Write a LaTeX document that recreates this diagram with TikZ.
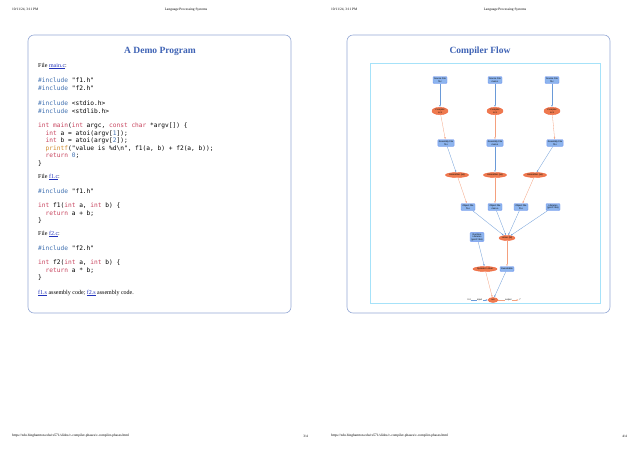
\documentclass[tikz,border=0pt]{standalone}
\usepackage{fontspec}
\setmainfont{Liberation Serif}
\newfontfamily\codefont{DejaVu Sans Mono}
\newfontfamily\sansf{Liberation Sans}
\usetikzlibrary{shapes.geometric,arrows.meta}
\definecolor{kw}{HTML}{C8455F}
\definecolor{pp}{HTML}{3E6FB0}
\definecolor{fn}{HTML}{D08A2A}
\definecolor{ttl}{HTML}{3F63B5}
\definecolor{box}{HTML}{8CB4EE}
\definecolor{ell}{HTML}{EE7A4E}
\definecolor{lnk}{HTML}{2233BB}
\definecolor{barr}{HTML}{6A9AD8}
\definecolor{earr}{HTML}{F4A07E}
\newcommand{\K}[1]{\textcolor{kw}{#1}}
\newcommand{\PP}[1]{\textcolor{pp}{#1}}
\newcommand{\FN}[1]{\textcolor{fn}{#1}}
\newcommand{\LK}[1]{\textcolor{lnk}{\underline{#1}}}
\begin{document}
\begin{tikzpicture}[x=1pt,y=-1pt,
  hdr/.style={font=\fontsize{3.5}{4}\selectfont,inner sep=0},
  slide/.style={draw=ttl!55,rounded corners=6pt,line width=0.6pt},
  title/.style={font=\bfseries\fontsize{9.5}{11}\selectfont,text=ttl,inner sep=0},
  code/.style={anchor=west,font=\codefont\fontsize{6.2}{7}\selectfont,inner sep=0},
  txt/.style={anchor=west,font=\fontsize{6}{7}\selectfont,inner sep=0},
  fb/.style={draw=box!85!blue,fill=box,rounded corners=1pt,font=\sansf\fontsize{2.3}{2.6}\selectfont,align=center,inner sep=1pt,minimum width=14pt,minimum height=7pt},
  fe/.style={ellipse,draw=ell!85!red,fill=ell,font=\sansf\fontsize{2.3}{2.6}\selectfont,align=center,inner sep=0.5pt,minimum width=16pt,minimum height=7pt},
  ba/.style={draw=barr,line width=0.3pt,-{Latex[length=2pt,width=1.5pt]}},
  ea/.style={draw=earr,line width=0.3pt,-{Latex[length=2pt,width=1.5pt]}},
  small/.style={font=\sansf\fontsize{2.3}{2.6}\selectfont,inner sep=0.5pt}]
\useasboundingbox (0,0) rectangle (638,451);
\fill[white] (0,0) rectangle (638,451);
% headers / footers
\node[hdr,anchor=west] (h1) at (12,10) {10/11/24, 3:11 PM};
\node[hdr] (h2) at (186,10) {Language Processing Systems};
\node[hdr,anchor=west] (h3) at (331,10) {10/11/24, 3:11 PM};
\node[hdr] (h4) at (505,10) {Language Processing Systems};
\node[hdr,anchor=west] (f1) at (12,436) {https://zdu.binghamton.edu/cs571/slides/c-compiler-phases/c-compiler-phases.html};
\node[hdr,anchor=east] (f2) at (308,436) {3/4};
\node[hdr,anchor=west] (f3) at (331,436) {https://zdu.binghamton.edu/cs571/slides/c-compiler-phases/c-compiler-phases.html};
\node[hdr,anchor=east] (f4) at (627,436) {4/4};
% left slide
\draw[slide] (28,35) rectangle (291,313);
\node[title] (t1) at (160,51) {A Demo Program};
\node[txt] (l0) at (38,66) {File \LK{main.c}:};
\node[code] (c1) at (38,80) {\PP{\#include} "f1.h"};
\node[code] (c2) at (38,88) {\PP{\#include} "f2.h"};
\node[code] (c3) at (38,103) {\PP{\#include} <stdio.h>};
\node[code] (c4) at (38,111) {\PP{\#include} <stdlib.h>};
\node[code] (c5) at (38,126) {\K{int} \K{main}(\K{int} argc, \K{const} \K{char} *argv[]) \{};
\node[code] (c6) at (38,133.5) {\ \ \K{int} a = atoi(argv[\PP{1}]);};
\node[code] (c7) at (38,141) {\ \ \K{int} b = atoi(argv[\PP{2}]);};
\node[code] (c8) at (38,148.5) {\ \ \FN{printf}("value is \%d\textbackslash n", f1(a, b) + f2(a, b));};
\node[code] (c9) at (38,156) {\ \ \K{return} \PP{0};};
\node[code] (c10) at (38,163.5) {\}};
\node[txt] (l1) at (38,177) {File \LK{f1.c}:};
\node[code] (d1) at (38,191) {\PP{\#include} "f1.h"};
\node[code] (d2) at (38,206) {\K{int} f1(\K{int} a, \K{int} b) \{};
\node[code] (d3) at (38,213.5) {\ \ \K{return} a + b;};
\node[code] (d4) at (38,221) {\}};
\node[txt] (l2) at (38,234) {File \LK{f2.c}:};
\node[code] (e1) at (38,248) {\PP{\#include} "f2.h"};
\node[code] (e2) at (38,263) {\K{int} f2(\K{int} a, \K{int} b) \{};
\node[code] (e3) at (38,270.5) {\ \ \K{return} a * b;};
\node[code] (e4) at (38,278) {\}};
\node[txt] (l3) at (38,293) {\LK{f1.s} assembly code; \LK{f2.s} assembly code.};
% right slide
\draw[slide] (347,35) rectangle (610,313);
\node[title] (t2) at (480,51) {Compiler Flow};
\draw[cyan!35,line width=0.8pt] (370,63) rectangle (600,303);
\node[fb] (s1) at (440,80) {Source File\\f1.c};
\node[fb] (s2) at (495,80) {Source File\\main.c};
\node[fb] (s3) at (552,80) {Source File\\f2.c};
\node[fe] (k1) at (440,111) {Compiler\\cc1};
\node[fe] (k2) at (495,111) {Compiler\\cc1};
\node[fe] (k3) at (552,111) {Compiler\\cc1};
\node[fb] (a1) at (446,143) {Assembly File\\f1.s};
\node[fb] (a2) at (495,143) {Assembly File\\main.s};
\node[fb] (a3) at (555,143) {Assembly File\\f2.s};
\node[fe,minimum width=22pt,minimum height=5pt] (m1) at (457,175) {Assembler (as)};
\node[fe,minimum width=22pt,minimum height=5pt] (m2) at (495,175) {Assembler (as)};
\node[fe,minimum width=22pt,minimum height=5pt] (m3) at (535,175) {Assembler (as)};
\node[fb] (o1) at (468,207) {Object File\\f1.o};
\node[fb] (o2) at (495,207) {Object File\\main.o};
\node[fb] (o3) at (521,207) {Object File\\f2.o};
\node[fb] (o4) at (553,207) {Libraries\\(gcc/C libs)};
\node[fe,minimum width=16pt,minimum height=5pt] (lk) at (507,238) {Linker (ld)};
\node[fb] (rl) at (477,237) {Runtime\\Libraries\\(gcc/C libs)};
\node[fe,minimum width=24pt,minimum height=5pt] (dl) at (485,269) {Dynamic Linker};
\node[fb,minimum height=5pt] (ex) at (507,269) {Executable};
\node[fe,minimum width=10pt,minimum height=5pt] (run) at (493,300) {run};
\node[small] (in) at (469,300) {3 4};
\node[small] (out) at (520,300) {7};
\foreach \i in {1,2,3} {\draw[ba] (s\i) -- (k\i); \draw[ea] (k\i) -- (a\i); \draw[ba] (a\i) -- (m\i); \draw[ea] (m\i) -- (o\i);}
\foreach \i in {1,2,3,4} {\draw[ba] (o\i) -- (lk);}
\draw[ea] (lk) -- (ex);
\draw[ba] (rl) -- (dl);
\draw[ea] (dl) -- (run);
\draw[ba] (ex) -- (run);
\draw[ba] (in) -- node[small,fill=white]{input} (run);
\draw[ea] (run) -- node[small,fill=white]{output} (out);
\end{tikzpicture}
\end{document}
